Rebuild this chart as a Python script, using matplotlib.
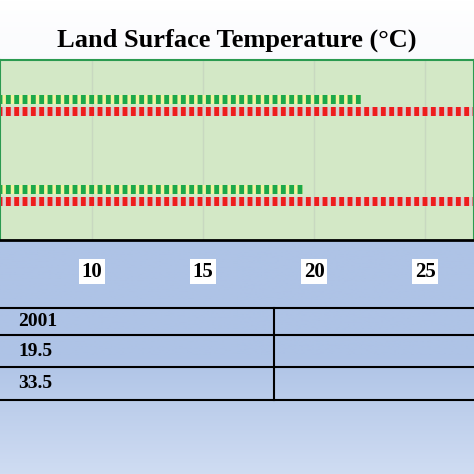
import matplotlib
matplotlib.use("Agg")
import matplotlib.pyplot as plt
import numpy as np
from matplotlib.colors import LinearSegmentedColormap

categories = ["Group A", "Group B"]
green_vals = [22.1, 19.5]
red_vals = [33.5, 33.5]
xticks = [10, 15, 20, 25]
table_rows = ["2001", "19.5", "33.5"]

plt.rcParams['hatch.linewidth'] = 2.5
fig = plt.figure(figsize=(4.74, 4.74), dpi=100)
bg = fig.add_axes([0, 0, 1, 1], zorder=-1)
grad = np.linspace(0, 1, 256).reshape(-1, 1)
cm = LinearSegmentedColormap.from_list("bg", ["#cfdcf2", "#aec3e6", "#aec3e6", "#f4f6fb", "#ffffff"])
bg.imshow(grad, aspect="auto", cmap=cm, extent=[0, 1, 0, 1], origin="lower")
bg.set_axis_off()

ax = fig.add_axes([0, 1 - 240/474, 1, 180/474])
ax.set_facecolor("#d3e8c6")
y = np.arange(len(categories))
ax.barh(y - 0.065, green_vals, height=0.1, color="#1aa84a", edgecolor="#f2f2a0",
        hatch="||", linewidth=0)
ax.barh(y + 0.07, red_vals, height=0.1, color="#ee1c1c", edgecolor="#d8d0d0",
        hatch="||", linewidth=0)
ax.set_xlim(5.85, 27.2)
ax.set_ylim(1.5, -0.5)
ax.set_xticks(xticks)
ax.grid(axis="x", color="#c8d8c0", lw=1)
ax.set_axisbelow(True)
ax.tick_params(length=0, labelleft=False, labelbottom=False)
ax.set_yticks([])
for s in ax.spines.values():
    s.set_color("#2a9a50"); s.set_linewidth(1.5)
ax.spines["bottom"].set_color("black"); ax.spines["bottom"].set_linewidth(2)
for t in xticks:
    ax.text(t, -0.12, str(t), transform=ax.get_xaxis_transform(), ha="center", va="top",
            fontsize=15, fontweight="bold", family="Liberation Serif",
            bbox=dict(facecolor="white", edgecolor="none", pad=2))

fig.text(0.5, 1 - 40/474, "Land Surface Temperature (°C)", ha="center", va="center",
         fontsize=19, fontweight="bold", family="Liberation Serif")

lines_y = [308, 335, 367, 400]
for ly in lines_y:
    fig.add_artist(plt.Line2D([0, 1], [1 - ly/474] * 2, color="black", lw=1.5))
fig.add_artist(plt.Line2D([274/474] * 2, [1 - 308/474, 1 - 400/474], color="black", lw=1.5))
for i, txt in enumerate(table_rows):
    yc = (lines_y[i] + lines_y[i + 1]) / 2
    fig.text(18/474, 1 - yc/474, txt, ha="left", va="center", fontsize=14,
             fontweight="bold", family="Liberation Serif")

fig.savefig("out.png", dpi=100)
